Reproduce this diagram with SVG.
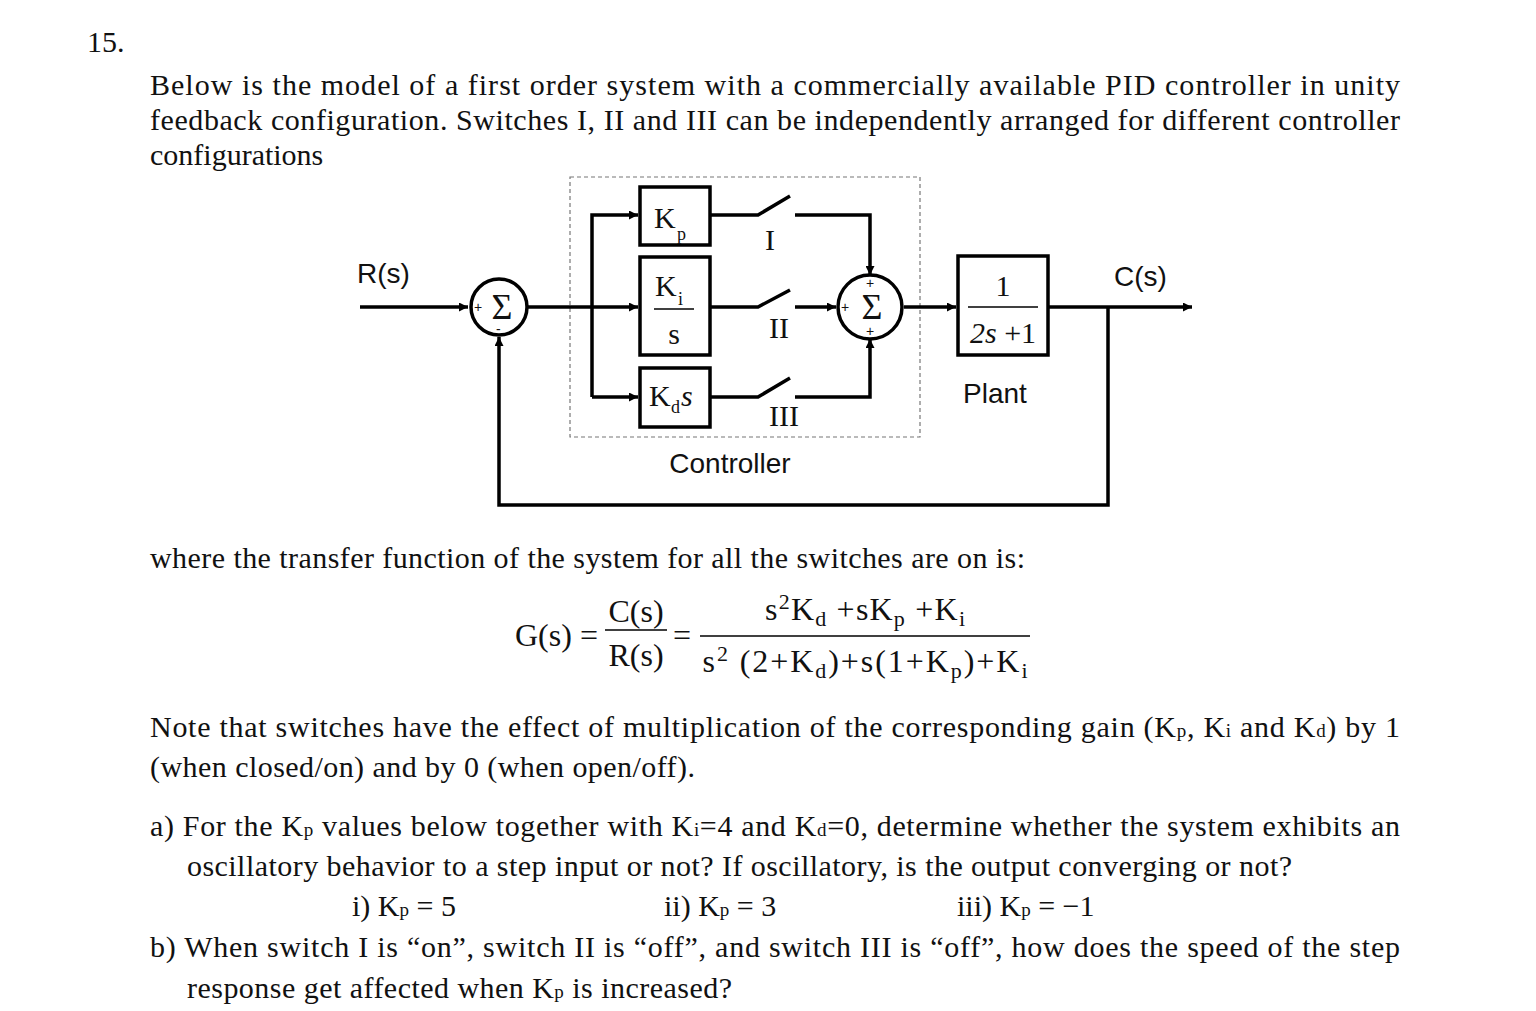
<svg xmlns="http://www.w3.org/2000/svg" width="1536" height="1011" viewBox="0 0 1536 1011">
<defs>
<marker id="ar" viewBox="0 0 10 10" refX="10" refY="5" markerWidth="9" markerHeight="9" markerUnits="userSpaceOnUse" orient="auto"><path d="M0,0L10,5L0,10z" fill="#000"/></marker>
<style>
.t{font-family:"Liberation Serif",serif;font-size:30px;fill:#111}
.s{font-family:"Liberation Sans",sans-serif;font-size:28px;fill:#111}
.b{fill:#fff;stroke:#000;stroke-width:3.5}
.w{fill:none;stroke:#000;stroke-width:3.5}
.m{font-family:"Liberation Serif",serif;font-size:30px;fill:#111}
.g{font-family:"Liberation Serif",serif;font-size:36px;fill:#111}
.f{font-family:"Liberation Serif",serif;font-size:32px;fill:#111}
.sm{font-family:"Liberation Serif",serif;font-size:18px;fill:#111}
.pm{font-family:"Liberation Sans",sans-serif;font-size:14px;fill:#111}
</style>
</defs>
<rect width="1536" height="1011" fill="#fff"/>
<text class="t" x="87" y="52">15.</text>
<text class="t" x="150" y="95" textLength="1250">Below is the model of a first order system with a commercially available PID controller in unity</text>
<text class="t" x="150" y="130" textLength="1250">feedback configuration. Switches I, II and III can be independently arranged for different controller</text>
<text class="t" x="150" y="165">configurations</text>

<rect x="570" y="177" width="350" height="260" fill="none" stroke="#777" stroke-width="1.2" stroke-dasharray="4,3"/>
<g id="connectors" class="w">
<path d="M360,307H468" marker-end="url(#ar)"/>
<path d="M528,307H638" marker-end="url(#ar)"/>
<path d="M592,397V215H638" marker-end="url(#ar)"/>
<path d="M592,397H638" marker-end="url(#ar)"/>
<path d="M710,215H758L790,196M795,215H870V275" marker-end="url(#ar)"/>
<path d="M710,307H758L790,290M795,307H836" marker-end="url(#ar)"/>
<path d="M710,397H758L790,378M795,397H870V339" marker-end="url(#ar)"/>
<path d="M904,307H956" marker-end="url(#ar)"/>
<path d="M1048,307H1192" marker-end="url(#ar)"/>
<path d="M1108,307V505H499V337" marker-end="url(#ar)"/>
</g>
<g id="sum1"><circle class="b" cx="499" cy="307" r="28"/><text class="g" x="502" y="319" text-anchor="middle">Σ</text><text class="pm" x="474" y="312">+</text><text class="pm" x="496" y="334">-</text></g>
<g id="sum2"><circle class="b" cx="870" cy="307" r="32"/><text class="g" x="872" y="319" text-anchor="middle">Σ</text><text class="pm" x="841" y="312">+</text><text class="pm" x="866" y="288">+</text><text class="pm" x="866" y="336">+</text></g>
<g id="kp"><rect class="b" x="640" y="187" width="70" height="58"/><text class="m" x="654" y="228">K</text><text class="sm" x="677" y="240">p</text></g>
<g id="ki"><rect class="b" x="640" y="257" width="70" height="98"/><text class="m" x="655" y="296">K</text><text class="sm" x="678" y="305">i</text><line x1="654" y1="309" x2="694" y2="309" stroke="#000" stroke-width="1.5"/><text class="m" x="674" y="344" text-anchor="middle">s</text></g>
<g id="kd"><rect class="b" x="640" y="368" width="70" height="59"/><text class="m" x="649" y="406">K</text><text class="sm" x="671" y="413">d</text><text class="m" x="681" y="406" font-style="italic">s</text></g>
<g id="plant"><rect class="b" x="958" y="256" width="90" height="99"/><text class="m" x="1003" y="296" text-anchor="middle">1</text><line x1="968" y1="307" x2="1038" y2="307" stroke="#000" stroke-width="1.5"/><text class="m" x="1003" y="343" text-anchor="middle"><tspan font-style="italic">2s</tspan> +1</text></g>
<text class="m" x="770" y="250" text-anchor="middle">I</text>
<text class="m" x="779" y="338" text-anchor="middle">II</text>
<text class="m" x="784" y="426" text-anchor="middle">III</text>
<text class="s" x="357" y="283">R(s)</text>
<text class="s" x="1114" y="286">C(s)</text>
<text class="s" x="995" y="403" text-anchor="middle">Plant</text>
<text class="s" x="730" y="473" text-anchor="middle">Controller</text>

<text class="t" x="150" y="568" textLength="875">where the transfer function of the system for all the switches are on is:</text>
<g id="formula" class="f">
<text x="515" y="646">G(s) =</text>
<text x="636" y="622" text-anchor="middle">C(s)</text>
<line x1="605" y1="630" x2="667" y2="630" stroke="#000" stroke-width="1.3"/>
<text x="636" y="666" text-anchor="middle">R(s)</text>
<text x="673" y="646">=</text>
<text x="865" y="620" text-anchor="middle" textLength="200">s<tspan dy="-11" font-size="22">2</tspan><tspan dy="11">K</tspan><tspan dy="6" font-size="22">d</tspan><tspan dy="-6"> +sK</tspan><tspan dy="6" font-size="22">p</tspan><tspan dy="-6"> +K</tspan><tspan dy="6" font-size="22">i</tspan></text>
<line x1="700" y1="636" x2="1030" y2="636" stroke="#000" stroke-width="1.3"/>
<text x="865" y="672" text-anchor="middle" textLength="325">s<tspan dy="-11" font-size="22">2</tspan><tspan dy="11"> (2+K</tspan><tspan dy="6" font-size="22">d</tspan><tspan dy="-6">)+s(1+K</tspan><tspan dy="6" font-size="22">p</tspan><tspan dy="-6">)+K</tspan><tspan dy="6" font-size="22">i</tspan></text>
</g>

<text class="t" x="150" y="737" textLength="1250">Note that switches have the effect of multiplication of the corresponding gain (K<tspan font-size="19">p</tspan>, K<tspan font-size="19">i</tspan> and K<tspan font-size="19">d</tspan>) by 1</text>
<text class="t" x="150" y="777" textLength="545">(when closed/on) and by 0 (when open/off).</text>
<text class="t" x="150" y="836" textLength="1250">a) For the K<tspan font-size="19">p</tspan> values below together with K<tspan font-size="19">i</tspan>=4 and K<tspan font-size="19">d</tspan>=0, determine whether the system exhibits an</text>
<text class="t" x="187" y="876" textLength="1105">oscillatory behavior to a step input or not? If oscillatory, is the output converging or not?</text>
<text class="t" x="352" y="916">i) K<tspan font-size="19">p</tspan> = 5</text>
<text class="t" x="664" y="916">ii) K<tspan font-size="19">p</tspan> = 3</text>
<text class="t" x="957" y="916">iii) K<tspan font-size="19">p</tspan> = −1</text>
<text class="t" x="150" y="957" textLength="1250">b) When switch I is “on”, switch II is “off”, and switch III is “off”, how does the speed of the step</text>
<text class="t" x="187" y="998" textLength="545">response get affected when K<tspan font-size="19">p</tspan> is increased?</text>
</svg>
